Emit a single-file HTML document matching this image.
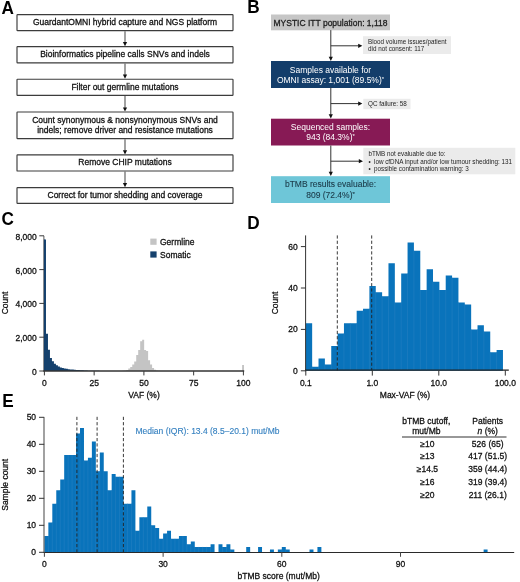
<!DOCTYPE html>
<html><head><meta charset="utf-8"><title>Figure</title>
<style>
html,body{margin:0;padding:0;background:#fff;}
body{width:520px;height:582px;overflow:hidden;}
svg{display:block;}
text{font-family:"Liberation Sans", Arial, Helvetica, sans-serif;}
</style></head>
<body>
<svg width="520" height="582" viewBox="0 0 520 582" shape-rendering="auto">
<rect x="0" y="0" width="520" height="582" fill="#fff"/>
<text transform="translate(1.6 13.5) scale(1 1.075)" x="0" y="0" font-size="17.2" font-weight="bold" fill="#000">A</text>
<text transform="translate(247.3 13.2) scale(1 1.075)" x="0" y="0" font-size="17.2" font-weight="bold" fill="#000">B</text>
<text transform="translate(1.5 224.8) scale(1 1.075)" x="0" y="0" font-size="17.2" font-weight="bold" fill="#000">C</text>
<text transform="translate(247.3 228.7) scale(1 1.075)" x="0" y="0" font-size="17.2" font-weight="bold" fill="#000">D</text>
<text transform="translate(2.2 406.7) scale(1 1.075)" x="0" y="0" font-size="17.2" font-weight="bold" fill="#000">E</text>
<rect x="17.0" y="14.6" width="216.0" height="16.00" fill="#fff" stroke="#3c3c3c" stroke-width="1.15" rx="0.6"/>
<text x="125.00" y="25.00" font-size="8.5" text-anchor="middle" fill="#111" font-weight="normal" stroke="#111" stroke-width="0.28" >GuardantOMNI hybrid capture and NGS platform</text>
<line x1="125.00" y1="31.20" x2="125.00" y2="42.50" stroke="#555" stroke-width="1.1" />
<polygon points="122.90,42.00 127.10,42.00 125.00,46.20" fill="#111"/>
<rect x="17.0" y="46.6" width="216.0" height="16.20" fill="#fff" stroke="#3c3c3c" stroke-width="1.15" rx="0.6"/>
<text x="125.00" y="57.10" font-size="8.5" text-anchor="middle" fill="#111" font-weight="normal" stroke="#111" stroke-width="0.28" >Bioinformatics pipeline calls SNVs and indels</text>
<line x1="125.00" y1="63.40" x2="125.00" y2="75.10" stroke="#555" stroke-width="1.1" />
<polygon points="122.90,74.60 127.10,74.60 125.00,78.80" fill="#111"/>
<rect x="17.0" y="79.2" width="216.0" height="16.20" fill="#fff" stroke="#3c3c3c" stroke-width="1.15" rx="0.6"/>
<text x="125.00" y="89.70" font-size="8.5" text-anchor="middle" fill="#111" font-weight="normal" stroke="#111" stroke-width="0.28" >Filter out germline mutations</text>
<line x1="125.00" y1="96.00" x2="125.00" y2="107.90" stroke="#555" stroke-width="1.1" />
<polygon points="122.90,107.40 127.10,107.40 125.00,111.60" fill="#111"/>
<rect x="17.0" y="112.0" width="216.0" height="26.60" fill="#fff" stroke="#3c3c3c" stroke-width="1.15" rx="0.6"/>
<text x="125.00" y="122.80" font-size="8.5" text-anchor="middle" fill="#111" font-weight="normal" stroke="#111" stroke-width="0.28" >Count synonymous &amp; nonsynonymous SNVs and</text>
<text x="125.00" y="133.20" font-size="8.5" text-anchor="middle" fill="#111" font-weight="normal" stroke="#111" stroke-width="0.28" >indels; remove driver and resistance mutations</text>
<line x1="125.00" y1="139.20" x2="125.00" y2="150.70" stroke="#555" stroke-width="1.1" />
<polygon points="122.90,150.20 127.10,150.20 125.00,154.40" fill="#111"/>
<rect x="17.0" y="154.8" width="216.0" height="16.20" fill="#fff" stroke="#3c3c3c" stroke-width="1.15" rx="0.6"/>
<text x="125.00" y="165.30" font-size="8.5" text-anchor="middle" fill="#111" font-weight="normal" stroke="#111" stroke-width="0.28" >Remove CHIP mutations</text>
<line x1="125.00" y1="171.60" x2="125.00" y2="183.50" stroke="#555" stroke-width="1.1" />
<polygon points="122.90,183.00 127.10,183.00 125.00,187.20" fill="#111"/>
<rect x="17.0" y="187.6" width="216.0" height="15.80" fill="#fff" stroke="#3c3c3c" stroke-width="1.15" rx="0.6"/>
<text x="125.00" y="197.90" font-size="8.5" text-anchor="middle" fill="#111" font-weight="normal" stroke="#111" stroke-width="0.28" >Correct for tumor shedding and coverage</text>
<rect x="271.00" y="14.50" width="119.00" height="15.80" fill="#c6c6c6" />
<text x="330.50" y="25.70" font-size="8.5" text-anchor="middle" fill="#1e1e1e" font-weight="normal" stroke="#1e1e1e" stroke-width="0.28" >MYSTIC ITT population: 1,118</text>
<rect x="271.00" y="61.00" width="119.00" height="27.00" fill="#133d6a" />
<text x="330.50" y="72.50" font-size="8.5" text-anchor="middle" fill="#fff" font-weight="normal" >Samples available for</text>
<text x="330.50" y="82.90" font-size="8.5" text-anchor="middle" fill="#fff" font-weight="normal" >OMNI assay: 1,001 (89.5%)<tspan font-size="6" dy="-2.2">*</tspan></text>
<rect x="271.00" y="118.70" width="119.00" height="26.80" fill="#871a55" />
<text x="330.50" y="129.60" font-size="8.5" text-anchor="middle" fill="#fff" font-weight="normal" >Sequenced samples:</text>
<text x="330.50" y="140.20" font-size="8.5" text-anchor="middle" fill="#fff" font-weight="normal" >943 (84.3%)<tspan font-size="6" dy="-2.2">*</tspan></text>
<rect x="271.00" y="176.20" width="119.00" height="26.80" fill="#6ec6d8" />
<text x="330.50" y="187.20" font-size="8.5" text-anchor="middle" fill="#1b3a48" font-weight="normal" stroke="#1b3a48" stroke-width="0.1" >bTMB results evaluable:</text>
<text x="330.50" y="197.80" font-size="8.5" text-anchor="middle" fill="#1b3a48" font-weight="normal" stroke="#1b3a48" stroke-width="0.1" >809 (72.4%)<tspan font-size="6" dy="-2.2">*</tspan></text>
<line x1="330.80" y1="30.10" x2="330.80" y2="57.30" stroke="#333" stroke-width="1" />
<polygon points="328.70,56.80 332.90,56.80 330.80,61.00" fill="#111"/>
<line x1="330.80" y1="87.70" x2="330.80" y2="114.80" stroke="#333" stroke-width="1" />
<polygon points="328.70,114.30 332.90,114.30 330.80,118.50" fill="#111"/>
<line x1="330.80" y1="145.50" x2="330.80" y2="172.30" stroke="#333" stroke-width="1" />
<polygon points="328.70,171.80 332.90,171.80 330.80,176.00" fill="#111"/>
<line x1="330.80" y1="45.80" x2="358.70" y2="45.80" stroke="#333" stroke-width="1" />
<polygon points="358.20,43.70 358.20,47.90 362.40,45.80" fill="#111"/>
<line x1="330.80" y1="103.60" x2="358.70" y2="103.60" stroke="#333" stroke-width="1" />
<polygon points="358.20,101.50 358.20,105.70 362.40,103.60" fill="#111"/>
<line x1="330.80" y1="161.20" x2="359.30" y2="161.20" stroke="#333" stroke-width="1" />
<polygon points="358.80,159.10 358.80,163.30 363.00,161.20" fill="#111"/>
<rect x="363.00" y="36.20" width="88.00" height="17.80" fill="#ebebeb" />
<text x="368.00" y="44.10" font-size="6.3" text-anchor="start" fill="#1e1e1e" font-weight="normal" >Blood volume issues/patient</text>
<text x="368.00" y="51.40" font-size="6.3" text-anchor="start" fill="#1e1e1e" font-weight="normal" >did not consent: 117</text>
<rect x="363.30" y="98.80" width="47.20" height="10.40" fill="#ebebeb" />
<text x="368.00" y="106.30" font-size="6.3" text-anchor="start" fill="#1e1e1e" font-weight="normal" >QC failure: 58</text>
<rect x="363.30" y="147.80" width="152.00" height="26.50" fill="#ebebeb" />
<text x="368.50" y="156.30" font-size="6.3" text-anchor="start" fill="#1e1e1e" font-weight="normal" >bTMB not evaluable due to:</text>
<text x="368.60" y="164.30" font-size="6.3" text-anchor="start" fill="#2a2a2a" font-weight="normal" >•</text>
<text x="374.00" y="164.30" font-size="6.3" text-anchor="start" fill="#1e1e1e" font-weight="normal" >low cfDNA input and/or low tumour shedding: 131</text>
<text x="368.60" y="171.30" font-size="6.3" text-anchor="start" fill="#2a2a2a" font-weight="normal" >•</text>
<text x="374.00" y="171.30" font-size="6.3" text-anchor="start" fill="#1e1e1e" font-weight="normal" >possible contamination warning: 3</text>
<line x1="43.90" y1="235.90" x2="43.90" y2="371.50" stroke="#555" stroke-width="1" />
<path d="M122.31,371.00 L122.31,370.66 L124.30,370.66 L124.30,370.49 L126.28,370.49 L126.28,369.99 L128.27,369.99 L128.27,368.46 L130.25,368.46 L130.25,366.94 L132.24,366.94 L132.24,364.58 L134.22,364.58 L134.22,361.54 L136.21,361.54 L136.21,354.94 L138.19,354.94 L138.19,349.88 L140.18,349.88 L140.18,341.26 L142.16,341.26 L142.16,339.74 L144.15,339.74 L144.15,349.88 L146.13,349.88 L146.13,350.89 L148.12,350.89 L148.12,360.18 L150.10,360.18 L150.10,364.58 L152.09,364.58 L152.09,367.96 L154.08,367.96 L154.08,369.82 L156.06,369.82 L156.06,370.49 L158.05,370.49 L158.05,370.75 L160.03,370.75 L160.03,371.00 Z" fill="#c4c4c4"/>
<rect x="242.10" y="365.00" width="1.90" height="6.00" fill="#c4c4c4" />
<path d="M44.00,371.00 L44.00,239.52 L45.98,239.52 L45.98,333.82 L47.97,333.82 L47.97,349.72 L49.95,349.72 L49.95,357.89 L51.94,357.89 L51.94,361.27 L53.92,361.27 L53.92,363.65 L55.91,363.65 L55.91,365.24 L57.90,365.24 L57.90,366.44 L59.88,366.44 L59.88,367.42 L61.87,367.42 L61.87,368.03 L63.85,368.03 L63.85,368.46 L65.84,368.46 L65.84,368.84 L67.82,368.84 L67.82,369.14 L69.81,369.14 L69.81,369.39 L71.79,369.39 L71.79,369.61 L73.78,369.61 L73.78,369.82 L75.76,369.82 L75.76,369.99 L77.75,369.99 L77.75,370.12 L79.73,370.12 L79.73,370.24 L81.72,370.24 L81.72,370.36 L83.70,370.36 L83.70,370.46 L85.69,370.46 L85.69,370.54 L87.67,370.54 L87.67,370.63 L89.66,370.63 L89.66,370.70 L91.64,370.70 L91.64,370.75 L93.62,370.75 L93.62,370.80 L95.61,370.80 L95.61,370.83 L97.59,370.83 L97.59,370.86 L99.58,370.86 L99.58,370.88 L101.56,370.88 L101.56,370.90 L103.55,370.90 L103.55,370.92 L105.53,370.92 L105.53,370.93 L107.52,370.93 L107.52,370.95 L109.51,370.95 L109.51,370.95 L111.49,370.95 L111.49,370.97 L113.48,370.97 L113.48,370.97 L115.46,370.97 L115.46,371.00 Z" fill="#15416d"/>
<rect x="43.90" y="239.52" width="0.60" height="131.48" fill="#15416d" />
<line x1="43.40" y1="371.00" x2="244.20" y2="371.00" stroke="#333" stroke-width="1.3" />
<line x1="39.30" y1="371.00" x2="44.00" y2="371.00" stroke="#3a3a3a" stroke-width="1" />
<text x="36.80" y="375.00" font-size="8.5" text-anchor="end" fill="#111" font-weight="normal" stroke="#111" stroke-width="0.28" >0</text>
<line x1="39.30" y1="337.20" x2="44.00" y2="337.20" stroke="#3a3a3a" stroke-width="1" />
<text x="36.80" y="341.20" font-size="8.5" text-anchor="end" fill="#111" font-weight="normal" stroke="#111" stroke-width="0.28" >2,000</text>
<line x1="39.30" y1="303.40" x2="44.00" y2="303.40" stroke="#3a3a3a" stroke-width="1" />
<text x="36.80" y="307.40" font-size="8.5" text-anchor="end" fill="#111" font-weight="normal" stroke="#111" stroke-width="0.28" >4,000</text>
<line x1="39.30" y1="269.60" x2="44.00" y2="269.60" stroke="#3a3a3a" stroke-width="1" />
<text x="36.80" y="273.60" font-size="8.5" text-anchor="end" fill="#111" font-weight="normal" stroke="#111" stroke-width="0.28" >6,000</text>
<line x1="39.30" y1="235.80" x2="44.00" y2="235.80" stroke="#3a3a3a" stroke-width="1" />
<text x="36.80" y="239.80" font-size="8.5" text-anchor="end" fill="#111" font-weight="normal" stroke="#111" stroke-width="0.28" >8,000</text>
<line x1="44.40" y1="371.00" x2="44.40" y2="375.40" stroke="#3a3a3a" stroke-width="1" />
<text x="44.40" y="386.20" font-size="8.5" text-anchor="middle" fill="#111" font-weight="normal" stroke="#111" stroke-width="0.28" >0</text>
<line x1="94.15" y1="371.00" x2="94.15" y2="375.40" stroke="#3a3a3a" stroke-width="1" />
<text x="94.15" y="386.20" font-size="8.5" text-anchor="middle" fill="#111" font-weight="normal" stroke="#111" stroke-width="0.28" >25</text>
<line x1="143.90" y1="371.00" x2="143.90" y2="375.40" stroke="#3a3a3a" stroke-width="1" />
<text x="143.90" y="386.20" font-size="8.5" text-anchor="middle" fill="#111" font-weight="normal" stroke="#111" stroke-width="0.28" >50</text>
<line x1="193.65" y1="371.00" x2="193.65" y2="375.40" stroke="#3a3a3a" stroke-width="1" />
<text x="193.65" y="386.20" font-size="8.5" text-anchor="middle" fill="#111" font-weight="normal" stroke="#111" stroke-width="0.28" >75</text>
<line x1="243.40" y1="371.00" x2="243.40" y2="375.40" stroke="#3a3a3a" stroke-width="1" />
<text x="243.40" y="386.20" font-size="8.5" text-anchor="middle" fill="#111" font-weight="normal" stroke="#111" stroke-width="0.28" >100</text>
<text x="144.00" y="398.40" font-size="8.5" text-anchor="middle" fill="#111" font-weight="normal" stroke="#111" stroke-width="0.28" >VAF (%)</text>
<text x="8.30" y="303.00" font-size="8.5" text-anchor="middle" fill="#111" font-weight="normal" stroke="#111" stroke-width="0.28" transform="rotate(-90 8.3 303.0)">Count</text>
<rect x="150.30" y="238.60" width="6.30" height="6.20" fill="#c4c4c4" />
<text x="160.00" y="244.60" font-size="8.5" text-anchor="start" fill="#111" font-weight="normal" stroke="#111" stroke-width="0.28" >Germline</text>
<rect x="150.30" y="251.40" width="6.30" height="6.20" fill="#15416d" />
<text x="160.00" y="258.00" font-size="8.5" text-anchor="start" fill="#111" font-weight="normal" stroke="#111" stroke-width="0.28" >Somatic</text>
<path d="M305.80,370.80 L305.80,323.19 L312.16,323.19 L312.16,366.66 L318.52,366.66 L318.52,358.38 L324.88,358.38 L324.88,364.59 L331.24,364.59 L331.24,345.96 L337.60,345.96 L337.60,333.54 L343.96,333.54 L343.96,323.19 L350.32,323.19 L350.32,323.19 L356.68,323.19 L356.68,310.77 L363.04,310.77 L363.04,308.70 L369.40,308.70 L369.40,285.93 L375.76,285.93 L375.76,292.14 L382.12,292.14 L382.12,296.28 L388.48,296.28 L388.48,263.16 L394.84,263.16 L394.84,302.49 L401.20,302.49 L401.20,273.51 L407.56,273.51 L407.56,242.46 L413.92,242.46 L413.92,250.74 L420.28,250.74 L420.28,290.07 L426.64,290.07 L426.64,269.37 L433.00,269.37 L433.00,281.79 L439.36,281.79 L439.36,290.07 L445.72,290.07 L445.72,275.58 L452.08,275.58 L452.08,277.65 L458.44,277.65 L458.44,302.49 L464.80,302.49 L464.80,304.56 L471.16,304.56 L471.16,329.40 L477.52,329.40 L477.52,325.26 L483.88,325.26 L483.88,331.47 L490.24,331.47 L490.24,352.17 L496.60,352.17 L496.60,350.10 L502.96,350.10 L502.96,370.80 Z" fill="#0973bb"/>
<line x1="312.16" y1="366.66" x2="312.16" y2="370.80" stroke="#2a83c2" stroke-width="0.5" />
<line x1="318.52" y1="366.66" x2="318.52" y2="370.80" stroke="#2a83c2" stroke-width="0.5" />
<line x1="324.88" y1="364.59" x2="324.88" y2="370.80" stroke="#2a83c2" stroke-width="0.5" />
<line x1="331.24" y1="364.59" x2="331.24" y2="370.80" stroke="#2a83c2" stroke-width="0.5" />
<line x1="337.60" y1="345.96" x2="337.60" y2="370.80" stroke="#2a83c2" stroke-width="0.5" />
<line x1="343.96" y1="333.54" x2="343.96" y2="370.80" stroke="#2a83c2" stroke-width="0.5" />
<line x1="350.32" y1="323.19" x2="350.32" y2="370.80" stroke="#2a83c2" stroke-width="0.5" />
<line x1="356.68" y1="323.19" x2="356.68" y2="370.80" stroke="#2a83c2" stroke-width="0.5" />
<line x1="363.04" y1="310.77" x2="363.04" y2="370.80" stroke="#2a83c2" stroke-width="0.5" />
<line x1="369.40" y1="308.70" x2="369.40" y2="370.80" stroke="#2a83c2" stroke-width="0.5" />
<line x1="375.76" y1="292.14" x2="375.76" y2="370.80" stroke="#2a83c2" stroke-width="0.5" />
<line x1="382.12" y1="296.28" x2="382.12" y2="370.80" stroke="#2a83c2" stroke-width="0.5" />
<line x1="388.48" y1="296.28" x2="388.48" y2="370.80" stroke="#2a83c2" stroke-width="0.5" />
<line x1="394.84" y1="302.49" x2="394.84" y2="370.80" stroke="#2a83c2" stroke-width="0.5" />
<line x1="401.20" y1="302.49" x2="401.20" y2="370.80" stroke="#2a83c2" stroke-width="0.5" />
<line x1="407.56" y1="273.51" x2="407.56" y2="370.80" stroke="#2a83c2" stroke-width="0.5" />
<line x1="413.92" y1="250.74" x2="413.92" y2="370.80" stroke="#2a83c2" stroke-width="0.5" />
<line x1="420.28" y1="290.07" x2="420.28" y2="370.80" stroke="#2a83c2" stroke-width="0.5" />
<line x1="426.64" y1="290.07" x2="426.64" y2="370.80" stroke="#2a83c2" stroke-width="0.5" />
<line x1="433.00" y1="281.79" x2="433.00" y2="370.80" stroke="#2a83c2" stroke-width="0.5" />
<line x1="439.36" y1="290.07" x2="439.36" y2="370.80" stroke="#2a83c2" stroke-width="0.5" />
<line x1="445.72" y1="290.07" x2="445.72" y2="370.80" stroke="#2a83c2" stroke-width="0.5" />
<line x1="452.08" y1="277.65" x2="452.08" y2="370.80" stroke="#2a83c2" stroke-width="0.5" />
<line x1="458.44" y1="302.49" x2="458.44" y2="370.80" stroke="#2a83c2" stroke-width="0.5" />
<line x1="464.80" y1="304.56" x2="464.80" y2="370.80" stroke="#2a83c2" stroke-width="0.5" />
<line x1="471.16" y1="329.40" x2="471.16" y2="370.80" stroke="#2a83c2" stroke-width="0.5" />
<line x1="477.52" y1="329.40" x2="477.52" y2="370.80" stroke="#2a83c2" stroke-width="0.5" />
<line x1="483.88" y1="331.47" x2="483.88" y2="370.80" stroke="#2a83c2" stroke-width="0.5" />
<line x1="490.24" y1="352.17" x2="490.24" y2="370.80" stroke="#2a83c2" stroke-width="0.5" />
<line x1="496.60" y1="352.17" x2="496.60" y2="370.80" stroke="#2a83c2" stroke-width="0.5" />
<line x1="305.60" y1="235.40" x2="305.60" y2="371.30" stroke="#333" stroke-width="1" />
<line x1="305.10" y1="370.20" x2="508.80" y2="370.20" stroke="#222" stroke-width="1.2" />
<line x1="300.90" y1="370.80" x2="305.60" y2="370.80" stroke="#333" stroke-width="1" />
<text x="297.80" y="373.80" font-size="8.5" text-anchor="end" fill="#111" font-weight="normal" stroke="#111" stroke-width="0.28" >0</text>
<line x1="300.90" y1="329.40" x2="305.60" y2="329.40" stroke="#333" stroke-width="1" />
<text x="297.80" y="332.40" font-size="8.5" text-anchor="end" fill="#111" font-weight="normal" stroke="#111" stroke-width="0.28" >20</text>
<line x1="300.90" y1="288.00" x2="305.60" y2="288.00" stroke="#333" stroke-width="1" />
<text x="297.80" y="291.00" font-size="8.5" text-anchor="end" fill="#111" font-weight="normal" stroke="#111" stroke-width="0.28" >40</text>
<line x1="300.90" y1="246.60" x2="305.60" y2="246.60" stroke="#333" stroke-width="1" />
<text x="297.80" y="249.60" font-size="8.5" text-anchor="end" fill="#111" font-weight="normal" stroke="#111" stroke-width="0.28" >60</text>
<line x1="305.80" y1="370.20" x2="305.80" y2="375.60" stroke="#333" stroke-width="1" />
<text x="305.80" y="385.90" font-size="8.5" text-anchor="middle" fill="#111" font-weight="normal" stroke="#111" stroke-width="0.28" >0.1</text>
<line x1="372.30" y1="370.20" x2="372.30" y2="375.60" stroke="#333" stroke-width="1" />
<text x="372.30" y="385.90" font-size="8.5" text-anchor="middle" fill="#111" font-weight="normal" stroke="#111" stroke-width="0.28" >1.0</text>
<line x1="438.80" y1="370.20" x2="438.80" y2="375.60" stroke="#333" stroke-width="1" />
<text x="438.80" y="385.90" font-size="8.5" text-anchor="middle" fill="#111" font-weight="normal" stroke="#111" stroke-width="0.28" >10.0</text>
<line x1="505.30" y1="370.20" x2="505.30" y2="375.60" stroke="#333" stroke-width="1" />
<text x="505.30" y="385.90" font-size="8.5" text-anchor="middle" fill="#111" font-weight="normal" stroke="#111" stroke-width="0.28" >100.0</text>
<line x1="337.30" y1="235.40" x2="337.30" y2="370.30" stroke="#222" stroke-width="0.9" stroke-dasharray="3.2,2.1"/>
<line x1="371.70" y1="235.40" x2="371.70" y2="370.30" stroke="#222" stroke-width="0.9" stroke-dasharray="3.2,2.1"/>
<text x="405.00" y="398.40" font-size="8.5" text-anchor="middle" fill="#111" font-weight="normal" stroke="#111" stroke-width="0.28" >Max-VAF (%)</text>
<text x="278.20" y="303.00" font-size="8.5" text-anchor="middle" fill="#111" font-weight="normal" stroke="#111" stroke-width="0.28" transform="rotate(-90 278.2 303.0)">Count</text>
<path d="M44.40,552.30 L44.40,536.10 L48.36,536.10 L48.36,522.60 L52.31,522.60 L52.31,503.70 L56.27,503.70 L56.27,490.20 L60.23,490.20 L60.23,479.40 L64.19,479.40 L64.19,455.10 L68.14,455.10 L68.14,455.10 L72.10,455.10 L72.10,455.10 L76.06,455.10 L76.06,433.50 L80.01,433.50 L80.01,428.10 L83.97,428.10 L83.97,460.50 L87.93,460.50 L87.93,457.80 L91.88,457.80 L91.88,441.60 L95.84,441.60 L95.84,471.30 L99.80,471.30 L99.80,452.40 L103.75,452.40 L103.75,471.30 L107.71,471.30 L107.71,490.20 L111.67,490.20 L111.67,474.00 L115.63,474.00 L115.63,476.70 L119.58,476.70 L119.58,476.70 L123.54,476.70 L123.54,503.70 L127.50,503.70 L127.50,503.70 L131.45,503.70 L131.45,490.20 L135.41,490.20 L135.41,530.70 L139.37,530.70 L139.37,517.20 L143.32,517.20 L143.32,517.20 L147.28,517.20 L147.28,506.40 L151.24,506.40 L151.24,525.30 L155.20,525.30 L155.20,528.00 L159.15,528.00 L159.15,538.80 L163.11,538.80 L163.11,533.40 L167.07,533.40 L167.07,530.70 L171.02,530.70 L171.02,538.80 L174.98,538.80 L174.98,538.80 L178.94,538.80 L178.94,536.10 L182.90,536.10 L182.90,536.10 L186.85,536.10 L186.85,544.20 L190.81,544.20 L190.81,541.50 L194.77,541.50 L194.77,546.90 L198.72,546.90 L198.72,546.90 L202.68,546.90 L202.68,546.90 L206.64,546.90 L206.64,546.90 L210.59,546.90 L210.59,544.20 L214.55,544.20 L214.55,552.30 Z M218.51,552.30 L218.51,544.20 L222.47,544.20 L222.47,546.90 L226.42,546.90 L226.42,544.20 L230.38,544.20 L230.38,549.60 L234.34,549.60 L234.34,552.30 Z M246.21,552.30 L246.21,546.90 L250.16,546.90 L250.16,552.30 Z M258.08,552.30 L258.08,546.90 L262.03,546.90 L262.03,552.30 Z M269.95,552.30 L269.95,549.60 L273.91,549.60 L273.91,552.30 Z M277.86,552.30 L277.86,549.60 L281.82,549.60 L281.82,546.90 L285.78,546.90 L285.78,549.60 L289.73,549.60 L289.73,552.30 Z M309.52,552.30 L309.52,549.60 L313.48,549.60 L313.48,552.30 Z M317.43,552.30 L317.43,546.90 L321.39,546.90 L321.39,552.30 Z M483.63,552.30 L483.63,549.60 L487.58,549.60 L487.58,552.30 Z" fill="#0973bb"/>
<line x1="48.36" y1="536.10" x2="48.36" y2="552.30" stroke="#2a83c2" stroke-width="0.5" />
<line x1="52.31" y1="522.60" x2="52.31" y2="552.30" stroke="#2a83c2" stroke-width="0.5" />
<line x1="56.27" y1="503.70" x2="56.27" y2="552.30" stroke="#2a83c2" stroke-width="0.5" />
<line x1="60.23" y1="490.20" x2="60.23" y2="552.30" stroke="#2a83c2" stroke-width="0.5" />
<line x1="64.19" y1="479.40" x2="64.19" y2="552.30" stroke="#2a83c2" stroke-width="0.5" />
<line x1="68.14" y1="455.10" x2="68.14" y2="552.30" stroke="#2a83c2" stroke-width="0.5" />
<line x1="72.10" y1="455.10" x2="72.10" y2="552.30" stroke="#2a83c2" stroke-width="0.5" />
<line x1="76.06" y1="455.10" x2="76.06" y2="552.30" stroke="#2a83c2" stroke-width="0.5" />
<line x1="80.01" y1="433.50" x2="80.01" y2="552.30" stroke="#2a83c2" stroke-width="0.5" />
<line x1="83.97" y1="460.50" x2="83.97" y2="552.30" stroke="#2a83c2" stroke-width="0.5" />
<line x1="87.93" y1="460.50" x2="87.93" y2="552.30" stroke="#2a83c2" stroke-width="0.5" />
<line x1="91.88" y1="457.80" x2="91.88" y2="552.30" stroke="#2a83c2" stroke-width="0.5" />
<line x1="95.84" y1="471.30" x2="95.84" y2="552.30" stroke="#2a83c2" stroke-width="0.5" />
<line x1="99.80" y1="471.30" x2="99.80" y2="552.30" stroke="#2a83c2" stroke-width="0.5" />
<line x1="103.75" y1="471.30" x2="103.75" y2="552.30" stroke="#2a83c2" stroke-width="0.5" />
<line x1="107.71" y1="490.20" x2="107.71" y2="552.30" stroke="#2a83c2" stroke-width="0.5" />
<line x1="111.67" y1="490.20" x2="111.67" y2="552.30" stroke="#2a83c2" stroke-width="0.5" />
<line x1="115.63" y1="476.70" x2="115.63" y2="552.30" stroke="#2a83c2" stroke-width="0.5" />
<line x1="119.58" y1="476.70" x2="119.58" y2="552.30" stroke="#2a83c2" stroke-width="0.5" />
<line x1="123.54" y1="503.70" x2="123.54" y2="552.30" stroke="#2a83c2" stroke-width="0.5" />
<line x1="127.50" y1="503.70" x2="127.50" y2="552.30" stroke="#2a83c2" stroke-width="0.5" />
<line x1="131.45" y1="503.70" x2="131.45" y2="552.30" stroke="#2a83c2" stroke-width="0.5" />
<line x1="135.41" y1="530.70" x2="135.41" y2="552.30" stroke="#2a83c2" stroke-width="0.5" />
<line x1="139.37" y1="530.70" x2="139.37" y2="552.30" stroke="#2a83c2" stroke-width="0.5" />
<line x1="143.32" y1="517.20" x2="143.32" y2="552.30" stroke="#2a83c2" stroke-width="0.5" />
<line x1="147.28" y1="517.20" x2="147.28" y2="552.30" stroke="#2a83c2" stroke-width="0.5" />
<line x1="151.24" y1="525.30" x2="151.24" y2="552.30" stroke="#2a83c2" stroke-width="0.5" />
<line x1="155.20" y1="528.00" x2="155.20" y2="552.30" stroke="#2a83c2" stroke-width="0.5" />
<line x1="159.15" y1="538.80" x2="159.15" y2="552.30" stroke="#2a83c2" stroke-width="0.5" />
<line x1="163.11" y1="538.80" x2="163.11" y2="552.30" stroke="#2a83c2" stroke-width="0.5" />
<line x1="167.07" y1="533.40" x2="167.07" y2="552.30" stroke="#2a83c2" stroke-width="0.5" />
<line x1="171.02" y1="538.80" x2="171.02" y2="552.30" stroke="#2a83c2" stroke-width="0.5" />
<line x1="174.98" y1="538.80" x2="174.98" y2="552.30" stroke="#2a83c2" stroke-width="0.5" />
<line x1="178.94" y1="538.80" x2="178.94" y2="552.30" stroke="#2a83c2" stroke-width="0.5" />
<line x1="182.90" y1="536.10" x2="182.90" y2="552.30" stroke="#2a83c2" stroke-width="0.5" />
<line x1="186.85" y1="544.20" x2="186.85" y2="552.30" stroke="#2a83c2" stroke-width="0.5" />
<line x1="190.81" y1="544.20" x2="190.81" y2="552.30" stroke="#2a83c2" stroke-width="0.5" />
<line x1="194.77" y1="546.90" x2="194.77" y2="552.30" stroke="#2a83c2" stroke-width="0.5" />
<line x1="198.72" y1="546.90" x2="198.72" y2="552.30" stroke="#2a83c2" stroke-width="0.5" />
<line x1="202.68" y1="546.90" x2="202.68" y2="552.30" stroke="#2a83c2" stroke-width="0.5" />
<line x1="206.64" y1="546.90" x2="206.64" y2="552.30" stroke="#2a83c2" stroke-width="0.5" />
<line x1="210.59" y1="546.90" x2="210.59" y2="552.30" stroke="#2a83c2" stroke-width="0.5" />
<line x1="222.47" y1="546.90" x2="222.47" y2="552.30" stroke="#2a83c2" stroke-width="0.5" />
<line x1="226.42" y1="546.90" x2="226.42" y2="552.30" stroke="#2a83c2" stroke-width="0.5" />
<line x1="230.38" y1="549.60" x2="230.38" y2="552.30" stroke="#2a83c2" stroke-width="0.5" />
<line x1="281.82" y1="549.60" x2="281.82" y2="552.30" stroke="#2a83c2" stroke-width="0.5" />
<line x1="285.78" y1="549.60" x2="285.78" y2="552.30" stroke="#2a83c2" stroke-width="0.5" />
<line x1="44.00" y1="417.30" x2="44.00" y2="552.80" stroke="#555" stroke-width="1.1" />
<line x1="43.70" y1="552.50" x2="514.20" y2="552.50" stroke="#2a2a2a" stroke-width="1" />
<line x1="39.00" y1="552.30" x2="44.20" y2="552.30" stroke="#333" stroke-width="1" />
<text x="36.10" y="555.30" font-size="8.5" text-anchor="end" fill="#111" font-weight="normal" stroke="#111" stroke-width="0.28" >0</text>
<line x1="39.00" y1="525.30" x2="44.20" y2="525.30" stroke="#333" stroke-width="1" />
<text x="36.10" y="528.30" font-size="8.5" text-anchor="end" fill="#111" font-weight="normal" stroke="#111" stroke-width="0.28" >10</text>
<line x1="39.00" y1="498.30" x2="44.20" y2="498.30" stroke="#333" stroke-width="1" />
<text x="36.10" y="501.30" font-size="8.5" text-anchor="end" fill="#111" font-weight="normal" stroke="#111" stroke-width="0.28" >20</text>
<line x1="39.00" y1="471.30" x2="44.20" y2="471.30" stroke="#333" stroke-width="1" />
<text x="36.10" y="474.30" font-size="8.5" text-anchor="end" fill="#111" font-weight="normal" stroke="#111" stroke-width="0.28" >30</text>
<line x1="39.00" y1="444.30" x2="44.20" y2="444.30" stroke="#333" stroke-width="1" />
<text x="36.10" y="447.30" font-size="8.5" text-anchor="end" fill="#111" font-weight="normal" stroke="#111" stroke-width="0.28" >40</text>
<line x1="39.00" y1="417.30" x2="44.20" y2="417.30" stroke="#333" stroke-width="1" />
<text x="36.10" y="420.30" font-size="8.5" text-anchor="end" fill="#111" font-weight="normal" stroke="#111" stroke-width="0.28" >50</text>
<line x1="44.40" y1="552.30" x2="44.40" y2="556.80" stroke="#444" stroke-width="1" />
<text x="44.40" y="567.40" font-size="8.5" text-anchor="middle" fill="#111" font-weight="normal" stroke="#111" stroke-width="0.28" >0</text>
<line x1="163.11" y1="552.30" x2="163.11" y2="556.80" stroke="#444" stroke-width="1" />
<text x="163.11" y="567.40" font-size="8.5" text-anchor="middle" fill="#111" font-weight="normal" stroke="#111" stroke-width="0.28" >30</text>
<line x1="281.82" y1="552.30" x2="281.82" y2="556.80" stroke="#444" stroke-width="1" />
<text x="281.82" y="567.40" font-size="8.5" text-anchor="middle" fill="#111" font-weight="normal" stroke="#111" stroke-width="0.28" >60</text>
<line x1="400.53" y1="552.30" x2="400.53" y2="556.80" stroke="#444" stroke-width="1" />
<text x="400.53" y="567.40" font-size="8.5" text-anchor="middle" fill="#111" font-weight="normal" stroke="#111" stroke-width="0.28" >90</text>
<line x1="76.90" y1="416.80" x2="76.90" y2="552.00" stroke="#222" stroke-width="0.9" stroke-dasharray="3.2,2.1"/>
<line x1="97.10" y1="416.80" x2="97.10" y2="552.00" stroke="#222" stroke-width="0.9" stroke-dasharray="3.2,2.1"/>
<line x1="123.40" y1="416.80" x2="123.40" y2="552.00" stroke="#222" stroke-width="0.9" stroke-dasharray="3.2,2.1"/>
<text x="135.40" y="434.20" font-size="8.5" text-anchor="start" fill="#3580c0" font-weight="normal" stroke="#3580c0" stroke-width="0.12" >Median (IQR): 13.4 (8.5–20.1) mut/Mb</text>
<text x="278.70" y="579.30" font-size="8.5" text-anchor="middle" fill="#111" font-weight="normal" stroke="#111" stroke-width="0.28" >bTMB score (mut/Mb)</text>
<text x="7.80" y="484.80" font-size="8.5" text-anchor="middle" fill="#111" font-weight="normal" stroke="#111" stroke-width="0.28" transform="rotate(-90 7.8 484.8)">Sample count</text>
<text x="426.30" y="423.90" font-size="8.5" text-anchor="middle" fill="#111" font-weight="normal" stroke="#111" stroke-width="0.28" >bTMB cutoff,</text>
<text x="426.30" y="434.00" font-size="8.5" text-anchor="middle" fill="#111" font-weight="normal" stroke="#111" stroke-width="0.28" >mut/Mb</text>
<text x="487.70" y="423.90" font-size="8.5" text-anchor="middle" fill="#111" font-weight="normal" stroke="#111" stroke-width="0.28" >Patients</text>
<text x="487.70" y="434.00" font-size="8.5" text-anchor="middle" fill="#111" font-weight="normal" stroke="#111" stroke-width="0.28" ><tspan font-style="italic">n</tspan> (%)</text>
<line x1="402.00" y1="437.00" x2="506.50" y2="437.00" stroke="#333" stroke-width="1.1" />
<text x="427.40" y="446.60" font-size="8.5" text-anchor="middle" fill="#111" font-weight="normal" stroke="#111" stroke-width="0.28" >≥10</text>
<text x="487.70" y="446.60" font-size="8.5" text-anchor="middle" fill="#111" font-weight="normal" stroke="#111" stroke-width="0.28" >526 (65)</text>
<text x="427.40" y="459.40" font-size="8.5" text-anchor="middle" fill="#111" font-weight="normal" stroke="#111" stroke-width="0.28" >≥13</text>
<text x="487.70" y="459.40" font-size="8.5" text-anchor="middle" fill="#111" font-weight="normal" stroke="#111" stroke-width="0.28" >417 (51.5)</text>
<text x="427.40" y="472.20" font-size="8.5" text-anchor="middle" fill="#111" font-weight="normal" stroke="#111" stroke-width="0.28" >≥14.5</text>
<text x="487.70" y="472.20" font-size="8.5" text-anchor="middle" fill="#111" font-weight="normal" stroke="#111" stroke-width="0.28" >359 (44.4)</text>
<text x="427.40" y="485.00" font-size="8.5" text-anchor="middle" fill="#111" font-weight="normal" stroke="#111" stroke-width="0.28" >≥16</text>
<text x="487.70" y="485.00" font-size="8.5" text-anchor="middle" fill="#111" font-weight="normal" stroke="#111" stroke-width="0.28" >319 (39.4)</text>
<text x="427.40" y="497.80" font-size="8.5" text-anchor="middle" fill="#111" font-weight="normal" stroke="#111" stroke-width="0.28" >≥20</text>
<text x="487.70" y="497.80" font-size="8.5" text-anchor="middle" fill="#111" font-weight="normal" stroke="#111" stroke-width="0.28" >211 (26.1)</text>
</svg>
</body></html>
